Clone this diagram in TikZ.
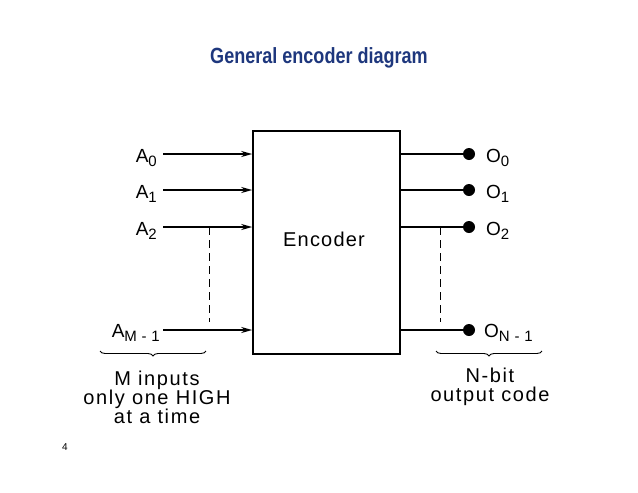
\documentclass[tikz,border=0pt]{standalone}
\usepackage{fontspec}
\setmainfont{Liberation Sans}
\usetikzlibrary{arrows.meta,decorations.pathreplacing}
\definecolor{titleblue}{RGB}{30,55,125}
\newcommand{\mysub}[1]{\raisebox{-0.35ex}{\fontsize{15}{15}\selectfont #1}}
\begin{document}
\begin{tikzpicture}[x=1pt,y=-1pt,
  wire/.style={line width=1.6pt},
  inarrow/.style={wire,-{Stealth[length=11pt,width=6pt]}},
  dot/.style={circle,fill=black,inner sep=0pt,minimum size=12pt},
  lbl/.style={font=\fontsize{19}{19}\selectfont\addfontfeatures{LetterSpace=4},inner sep=0pt},
  txt/.style={font=\fontsize{20}{19}\selectfont\addfontfeatures{LetterSpace=8},align=center},
  dline/.style={line width=0.9pt,dash pattern=on 8pt off 5pt},
  brace/.style={decorate,decoration={brace,mirror,amplitude=5pt},line width=0.9pt}]
\useasboundingbox (0,0) rectangle (638,493);
\node[font=\bfseries\fontsize{22}{22}\selectfont,text=titleblue,xscale=0.82] (title) at (319,58) {General encoder diagram};
\node[draw,line width=1.6pt,minimum width=147pt,minimum height=223pt,inner sep=0pt] (enc) at (326.5,242.5) {};
\node[font=\fontsize{20}{20}\selectfont\addfontfeatures{LetterSpace=6}] (enct) at (324,239) {Encoder};
% inputs
\node[lbl,anchor=east] (a0) at (157,158) {A\mysub{0}};
\node[lbl,anchor=east] (a1) at (157,194) {A\mysub{1}};
\node[lbl,anchor=east] (a2) at (157,231) {A\mysub{2}};
\node[lbl,anchor=east] (am) at (160,333) {A\mysub{M - 1}};
\coordinate (s0) at (163,154); \coordinate (s1) at (163,190);
\coordinate (s2) at (163,227); \coordinate (sm) at (163,330);
\draw[inarrow] (s0) -- (enc.west |- s0);
\draw[inarrow] (s1) -- (enc.west |- s1);
\draw[inarrow] (s2) -- (enc.west |- s2);
\draw[inarrow] (sm) -- (enc.west |- sm);
% outputs
\node[dot] (d0) at (469,154) {};
\node[dot] (d1) at (469,190) {};
\node[dot] (d2) at (469,227) {};
\node[dot] (dn) at (469,330) {};
\draw[wire] (enc.east |- d0) -- (d0);
\draw[wire] (enc.east |- d1) -- (d1);
\draw[wire] (enc.east |- d2) -- (d2);
\draw[wire] (enc.east |- dn) -- (dn);
\node[lbl,anchor=west] (o0) at (486,158) {O\mysub{0}};
\node[lbl,anchor=west] (o1) at (486,194) {O\mysub{1}};
\node[lbl,anchor=west] (o2) at (486,231) {O\mysub{2}};
\node[lbl,anchor=west] (on) at (484,333) {O\mysub{N - 1}};
% dashed
\coordinate (l1) at (209,227); \coordinate (l2) at (209,322);
\coordinate (r1) at (440,227); \coordinate (r2) at (440,322);
\draw[dline] (l1) -- (l2);
\draw[dline] (r1) -- (r2);
% braces
\coordinate (b1) at (100,351); \coordinate (b2) at (206,351);
\coordinate (b3) at (436,351); \coordinate (b4) at (542,351);
\draw[brace] (b1) -- (b2);
\draw[brace] (b3) -- (b4);
\node[txt] (lt) at (157,397) {M inputs\\only one HIGH\\at a time};
\node[txt] (rt) at (490,387) {N-bit\\output code};
\node[font=\rmfamily\fontsize{10}{10}\selectfont] (pg) at (65,447) {4};
\end{tikzpicture}
\end{document}
